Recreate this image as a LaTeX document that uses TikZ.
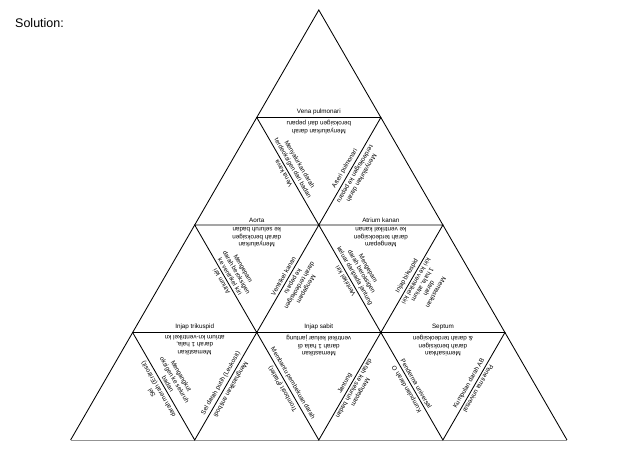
\documentclass[tikz,border=0pt]{standalone}
\usepackage{fontspec}
\setmainfont{Liberation Sans}
\usetikzlibrary{calc}
\begin{document}
\begin{tikzpicture}[x=1pt,y=1pt,
  grid/.style={draw=black,line width=0.85pt,line join=miter},
  lbl/.style={font=\fontsize{6.3}{7.6}\selectfont,align=center,anchor=south,inner xsep=0pt,inner ysep=2.5pt}]
\useasboundingbox (0,0) rectangle (638,452);
% lattice points
\coordinate (p00) at (318.8,442);
\coordinate (p11) at (256.75,334.5); \coordinate (p12) at (380.85,334.5);
\coordinate (p21) at (194.7,227); \coordinate (p22) at (318.8,227); \coordinate (p23) at (442.9,227);
\coordinate (p31) at (132.65,119.5); \coordinate (p32) at (256.75,119.5); \coordinate (p33) at (380.85,119.5); \coordinate (p34) at (504.95,119.5);
\coordinate (p41) at (70.6,12); \coordinate (p42) at (194.7,12); \coordinate (p43) at (318.8,12); \coordinate (p44) at (442.9,12); \coordinate (p45) at (567,12);

\node[font=\fontsize{12.5}{14}\selectfont,anchor=base west,inner sep=0pt] (title) at (15,424) {Solution:};

% outer triangle
\draw[grid] (p41) -- (p00) -- (p45);
\draw[draw=gray!85,line width=0.85pt] (p41) -- (p45);
% inverted triangles
\draw[grid] (p11) -- (p12) -- (p22) -- cycle;
\draw[grid] (p21) -- (p22) -- (p32) -- cycle;
\draw[grid] (p22) -- (p23) -- (p33) -- cycle;
\draw[grid] (p31) -- (p32) -- (p42) -- cycle;
\draw[grid] (p32) -- (p33) -- (p43) -- cycle;
\draw[grid] (p33) -- (p34) -- (p44) -- cycle;

% T1
\node[lbl,rotate=0] (a1) at ($(p11)!0.5!(p12)$) {Vena pulmonari};
\node[lbl,rotate=180] (b1) at ($(p11)!0.5!(p12)$) {Menyalurkan darah\\beroksigen dari peparu};
\node[lbl,rotate=-60] (a2) at ($(p11)!0.5!(p22)$) {Menyalurkan darah\\terdeoksigen dari badan};
\node[lbl,rotate=120] (b2) at ($(p11)!0.5!(p22)$) {Vena kava};
\node[lbl,rotate=60] (a3) at ($(p12)!0.5!(p22)$) {Arteri pulmonari};
\node[lbl,rotate=-120] (b3) at ($(p12)!0.5!(p22)$) {Menyalurkan darah\\terdeoksigen ke peparu};
% T2
\node[lbl,rotate=0] (a4) at ($(p21)!0.5!(p22)$) {Aorta};
\node[lbl,rotate=180] (b4) at ($(p21)!0.5!(p22)$) {Menyalurkan\\darah beroksigen\\ke seluruh badan};
\node[lbl,rotate=-60] (a5) at ($(p21)!0.5!(p32)$) {Mengepam\\darah beroksigen\\ke ventrikel kiri};
\node[lbl,rotate=120] (b5) at ($(p21)!0.5!(p32)$) {Atrium kiri};
\node[lbl,rotate=60] (a6) at ($(p22)!0.5!(p32)$) {Ventrikel kanan};
\node[lbl,rotate=-120] (b6) at ($(p22)!0.5!(p32)$) {Mengepam\\darah terdeoksigen\\ke peparu};
% T3
\node[lbl,rotate=0] (a7) at ($(p22)!0.5!(p23)$) {Atrium kanan};
\node[lbl,rotate=180] (b7) at ($(p22)!0.5!(p23)$) {Mengepam\\darah terdeoksigen\\ke ventrikel kanan};
\node[lbl,rotate=-60] (a8) at ($(p22)!0.5!(p33)$) {Mengepam\\darah beroksigen\\keluar daripada jantung};
\node[lbl,rotate=120] (b8) at ($(p22)!0.5!(p33)$) {Ventrikel kiri};
\node[lbl,rotate=60] (a9) at ($(p23)!0.5!(p33)$) {Injap bikuspid};
\node[lbl,rotate=-120] (b9) at ($(p23)!0.5!(p33)$) {Memastikan\\darah\\1 hala, atrium\\kiri ke ventrikel kiri};
% T4
\node[lbl,rotate=0] (a10) at ($(p31)!0.5!(p32)$) {Injap trikuspid};
\node[lbl,rotate=180] (b10) at ($(p31)!0.5!(p32)$) {Memastikan\\darah 1 hala,\\atrium kn-ventrikel kn};
\node[lbl,rotate=-60] (a11) at ($(p31)!0.5!(p42)$) {Mengangkut\\oksigen ke seluruh\\badan};
\node[lbl,rotate=120] (b11) at ($(p31)!0.5!(p42)$) {Sel\\darah merah (Eritrosit)};
\node[lbl,rotate=60] (a12) at ($(p32)!0.5!(p42)$) {Sel darah putih (Leukosit)};
\node[lbl,rotate=-120] (b12) at ($(p32)!0.5!(p42)$) {Menghasilkan antibodi};
% T5
\node[lbl,rotate=0] (a13) at ($(p32)!0.5!(p33)$) {Injap sabit};
\node[lbl,rotate=180] (b13) at ($(p32)!0.5!(p33)$) {Memastikan\\darah 1 hala di\\ventrikel keluar jantung};
\node[lbl,rotate=-60] (a14) at ($(p32)!0.5!(p43)$) {Membantu pembekuan darah};
\node[lbl,rotate=120] (b14) at ($(p32)!0.5!(p43)$) {Trombosit (Platlet)};
\node[lbl,rotate=60] (a15) at ($(p33)!0.5!(p43)$) {Jantung};
\node[lbl,rotate=-120] (b15) at ($(p33)!0.5!(p43)$) {Mengepam\\darah ke seluruh badan};
% T6
\node[lbl,rotate=0] (a16) at ($(p33)!0.5!(p34)$) {Septum};
\node[lbl,rotate=180] (b16) at ($(p33)!0.5!(p34)$) {Memisahkan\\darah beroksigen\\\& darah terdeoksigen};
\node[lbl,rotate=-60] (a17) at ($(p33)!0.5!(p44)$) {Penderma universal};
\node[lbl,rotate=120] (b17) at ($(p33)!0.5!(p44)$) {Kumpulan darah O};
\node[lbl,rotate=60] (a18) at ($(p34)!0.5!(p44)$) {Kumpulan darah AB};
\node[lbl,rotate=-120] (b18) at ($(p34)!0.5!(p44)$) {Penerima universal};
\end{tikzpicture}
\end{document}
